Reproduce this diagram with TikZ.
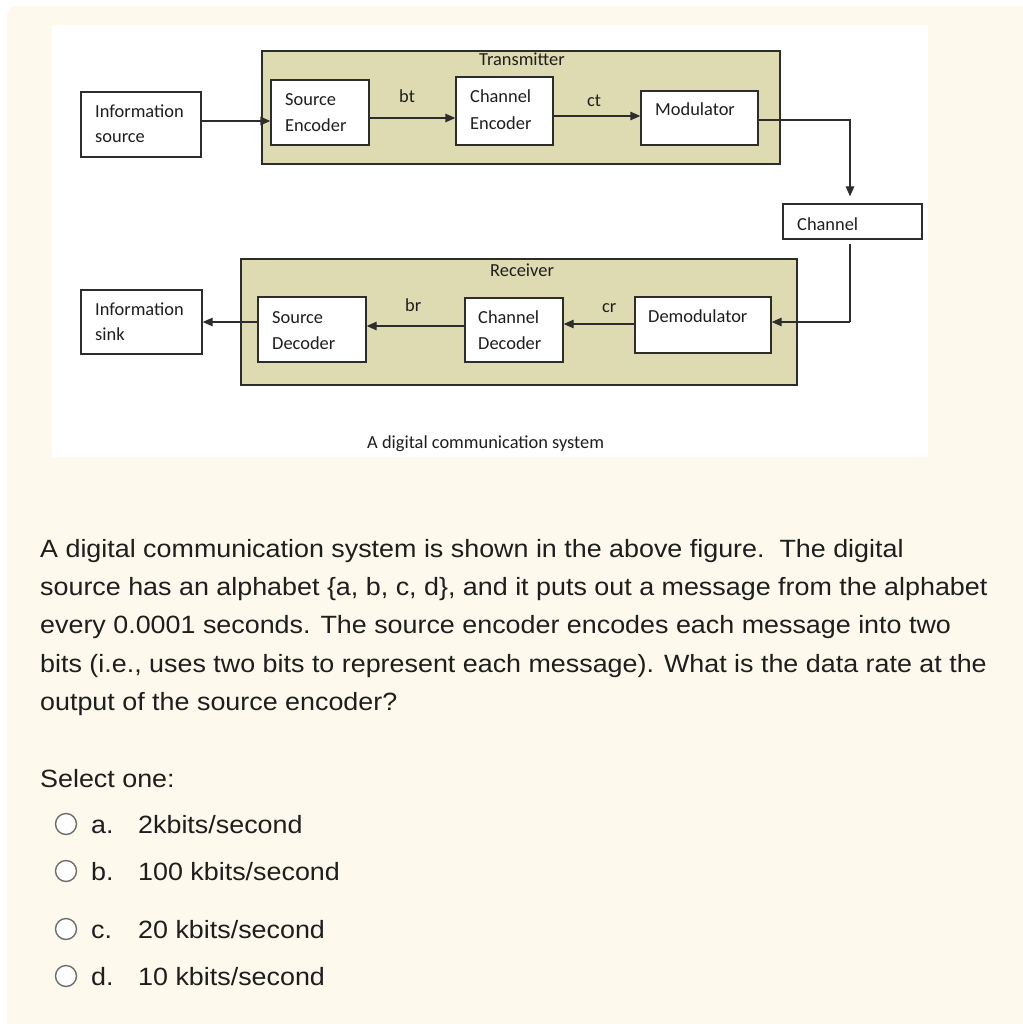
\documentclass[tikz,border=0pt]{standalone}
\usepackage{fontspec}
\setmainfont{Liberation Sans}
\newfontfamily\bodyfont[FakeStretch=1.075]{Liberation Sans}
\newfontfamily\diag{Carlito}
\usetikzlibrary{arrows.meta}
\definecolor{cream}{RGB}{253,249,237}
\definecolor{olive}{RGB}{222,218,178}
\definecolor{edge}{RGB}{45,45,45}
\definecolor{ink}{RGB}{30,30,30}
\tikzset{
  blk/.style={draw=edge, line width=1.3pt, fill=white, inner sep=0pt},
  grp/.style={draw=edge, line width=1.3pt, fill=olive, inner sep=0pt},
  lbl/.style={font=\diag\fontsize{18.4}{22}\selectfont, text=ink, anchor=base west, inner sep=0pt},
  arr/.style={draw=edge, line width=1.3pt, -{Triangle[length=10pt,width=8.5pt]}},
  ln/.style={draw=edge, line width=1.3pt},
  radio/.style={circle, draw={rgb,255:red,110;green,110;blue,110}, line width=1.4pt, fill=white, minimum size=21pt, inner sep=0pt},
  body/.style={font=\bodyfont\fontsize{25}{38.3}\selectfont, text=ink, anchor=base west, inner sep=0pt}
}
\begin{document}
\begin{tikzpicture}[x=1pt,y=-1pt]
\useasboundingbox (0,0) rectangle (1022,1024);
\fill[white] (0,0) rectangle (1022,1024);
\fill[cream, rounded corners=10pt] (7,6) rectangle (1040,1040);
\fill[white] (52,25) rectangle (928,457);
% groups
\node[grp, minimum width=518pt, minimum height=113pt] (tx) at (521,107.5) {};
\node[grp, minimum width=556pt, minimum height=126pt] (rx) at (519,322) {};
% blocks
\node[blk, minimum width=120pt, minimum height=65pt] (isrc) at (141,124.5) {};
\node[blk, minimum width=98pt, minimum height=65pt] (senc) at (320,112.5) {};
\node[blk, minimum width=97pt, minimum height=68pt] (cenc) at (504.5,111) {};
\node[blk, minimum width=117pt, minimum height=54pt] (mod) at (699.5,118) {};
\node[blk, minimum width=139pt, minimum height=35pt] (chan) at (852.5,221.5) {};
\node[blk, minimum width=121pt, minimum height=64pt] (sink) at (141.5,322) {};
\node[blk, minimum width=108pt, minimum height=65pt] (sdec) at (312,329.5) {};
\node[blk, minimum width=98pt, minimum height=64pt] (cdec) at (514,330) {};
\node[blk, minimum width=136pt, minimum height=56pt] (demod) at (703,325) {};
% labels
\node[lbl] (t1) at (479,66) {Transmitter};
\node[lbl] (t2) at (490,276) {Receiver};
\node[lbl] (t3) at (95,118) {Information};
\node[lbl] (t4) at (95,143) {source};
\node[lbl] (t5) at (285,106) {Source};
\node[lbl] (t6) at (285,132) {Encoder};
\node[lbl] (t7) at (470,103) {Channel};
\node[lbl] (t8) at (470,130) {Encoder};
\node[lbl] (t9) at (655,116) {Modulator};
\node[lbl] (t10) at (797,230) {Channel};
\node[lbl] (t11) at (95,315) {Information};
\node[lbl] (t12) at (95,340) {sink};
\node[lbl] (t13) at (272,323) {Source};
\node[lbl] (t14) at (272,349) {Decoder};
\node[lbl] (t15) at (478,323) {Channel};
\node[lbl] (t16) at (478,349) {Decoder};
\node[lbl] (t17) at (648,322) {Demodulator};
\node[lbl] (bt) at (399,103) {bt};
\node[lbl] (ct) at (587,107) {ct};
\node[lbl] (br) at (405,311) {br};
\node[lbl] (cr) at (602,312) {cr};
\node[lbl] (cap) at (367,448) {A digital communication system};
% connectors
\coordinate (m1) at (850,120);
\coordinate (m2) at (850,322);
\draw[arr] (isrc.east |- 0,121) -- (senc.west |- 0,121);
\draw[arr] (senc.east |- 0,118) -- (cenc.west |- 0,118);
\draw[arr] (cenc.east |- 0,116) -- (mod.west |- 0,116);
\draw[arr] (mod.east |- m1) -- (m1) -- ([yshift=7pt]chan.north -| m1);
\draw[ln] ([yshift=-4pt]chan.south -| m2) -- (m2);
\draw[arr] (m2) -- (demod.east |- m2);
\draw[arr] (demod.west |- 0,324) -- (cdec.east |- 0,324);
\draw[arr] (cdec.west |- 0,326) -- (sdec.east |- 0,326);
\draw[arr] (sdec.west |- 0,322) -- (sink.east |- 0,322);
% question text
\node[body] (q1) at (40,557) {A digital communication system is shown in the above figure.\ \ The digital};
\node[body] (q2) at (40,595) {source has an alphabet \{a, b, c, d\}, and it puts out a message from the alphabet};
\node[body] (q3) at (40,633) {every 0.0001 seconds. The source encoder encodes each message into two};
\node[body] (q4) at (40,672) {bits (i.e., uses two bits to represent each message). What is the data rate at the};
\node[body] (q5) at (40,710) {output of the source encoder?};
\node[body] (sel) at (40,787) {Select one:};
\node[radio] (r1) at (66,824) {};
\node[radio] (r2) at (66,871) {};
\node[radio] (r3) at (66,929) {};
\node[radio] (r4) at (66,976) {};
\node[body] (la) at (91,833) {a.};
\node[body] (lb) at (91,880) {b.};
\node[body] (lc) at (91,938) {c.};
\node[body] (ld) at (91,985) {d.};
\node[body] (oa) at (138,833) {2kbits/second};
\node[body] (ob) at (138,880) {100 kbits/second};
\node[body] (oc) at (138,938) {20 kbits/second};
\node[body] (od) at (138,985) {10 kbits/second};
\end{tikzpicture}
\end{document}
